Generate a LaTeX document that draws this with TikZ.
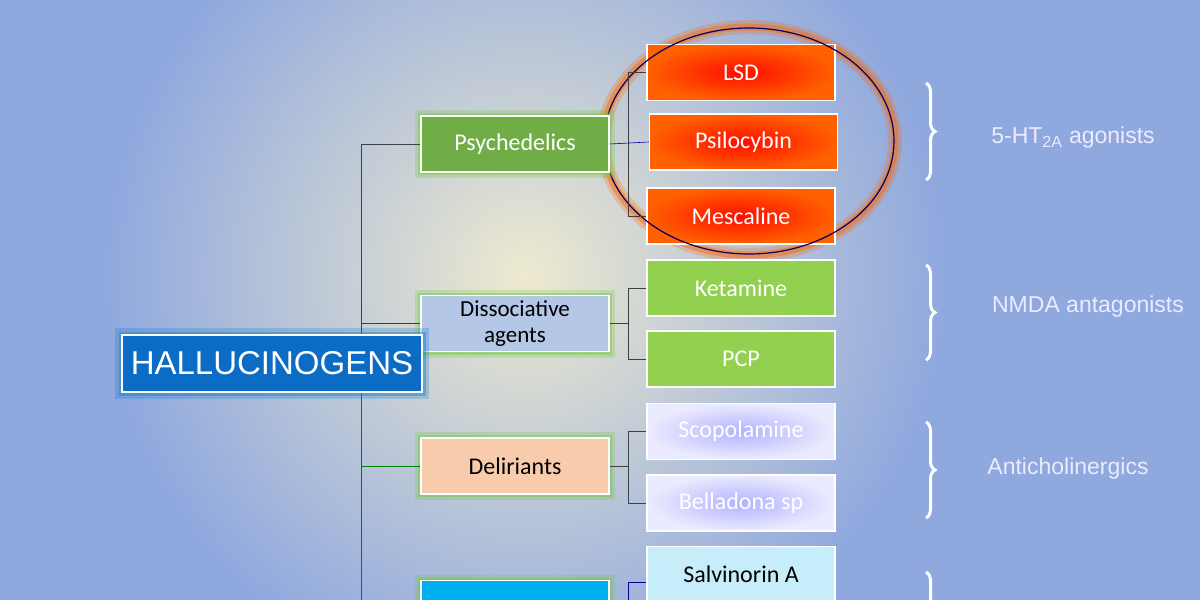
\documentclass[tikz,border=0pt]{standalone}
\usepackage{fontspec}
\setmainfont{Carlito}
\newfontfamily\labfont{Liberation Sans}
\usetikzlibrary{decorations.pathreplacing}
\definecolor{bgb}{RGB}{143,168,222}
\definecolor{bgc}{RGB}{238,234,208}
\definecolor{glow}{RGB}{110,200,60}
\begin{document}
\begin{tikzpicture}[x=1pt,y=-1pt,
 box/.style={draw=white,line width=1.2pt,minimum width=188pt,minimum height=56pt,inner sep=0pt,font=\fontsize{24}{26}\selectfont,align=center},
 grp/.style={box,preaction={draw=glow,line width=12pt,opacity=0.25},preaction={draw=glow,line width=6pt,opacity=0.4}},
 conn/.style={draw=black!75,line width=0.6pt},
 brc/.style={draw=white,line width=3pt,decorate,decoration={brace,amplitude=9pt}},
 lab/.style={text=white!92!blue,font=\labfont\fontsize{23}{25}\selectfont,anchor=center}]
\useasboundingbox (0,0) rectangle (1200,600);
\fill[bgb] (0,0) rectangle (1200,600);
\shade[inner color=bgc, outer color=bgb] (525,275) circle (420);
% trunk
\coordinate (t0) at (361,144);
\coordinate (t1) at (361,392);
\coordinate (t2) at (361,600);
\draw[conn] (t0) -- (t1);
\draw[draw=green!50!black,line width=0.6pt] (t1) -- (t2);
% ellipse glow
\draw[orange!80!red,line width=14pt,opacity=0.25] (749,141) ellipse (146pt and 114pt);
\draw[orange!80!red,line width=7pt,opacity=0.45] (749,141) ellipse (146pt and 114pt);
% items
\tikzset{hot/.style={box,inner color=red!90!orange,outer color=orange!75!red,text=white}}
\node[hot] (lsd) at (741,72.5) {LSD};
\node[hot] (psi) at (743.5,142) {Psilocybin};
\node[hot] (mes) at (741,216) {Mescaline};
\node[box,fill={rgb,255:red,146;green,208;blue,80},text=white] (ket) at (741,288) {Ketamine};
\node[box,fill={rgb,255:red,146;green,208;blue,80},text=white] (pcp) at (741,359) {PCP};
\node[box,inner color=blue!30!white,outer color=blue!8!white,text=white] (sco) at (741,431.5) {Scopolamine};
\node[box,inner color=blue!30!white,outer color=blue!8!white,text=white] (bel) at (741,503) {Belladona sp};
\node[box,fill=cyan!22!white,minimum height=60pt,anchor=north] (sal) at (741,546) {};
\node[font=\fontsize{24}{26}\selectfont] (salt) at (741,574) {Salvinorin A};
\draw[blue!40!black,line width=1.2pt] (749,141) ellipse (145pt and 113pt);
% groups
\node[grp,fill={rgb,255:red,112;green,173;blue,71},text=white] (psy) at (515,144) {Psychedelics};
\node[grp,fill={rgb,255:red,180;green,199;blue,231},text=black,font=\fontsize{23}{26}\selectfont] (dis) at (515,323.5) {Dissociative\\agents};
\node[grp,fill={rgb,255:red,248;green,203;blue,173},text=black] (del) at (515,466) {Deliriants};
\node[grp,fill={rgb,255:red,0;green,176;blue,240},anchor=north] (oth) at (515,580) {};
\node[box,fill={rgb,255:red,10;green,108;blue,196},text=white,minimum width=300pt,minimum height=57pt,font=\labfont\fontsize{33}{36}\selectfont,
 preaction={draw=cyan!60!blue,line width=14pt,opacity=0.25},preaction={draw=cyan!60!blue,line width=7pt,opacity=0.4}] (hal) at (272,363.5) {HALLUCINOGENS};
% group connectors
\draw[conn] (t0) -- (psy.west);
\draw[conn] (361,323.5) -- (dis.west);
\draw[draw=green!50!black,line width=0.6pt] (361,466) -- (del.west);
% item connectors
\draw[conn] (lsd.west) -| (628,216) -- (mes.west);
\draw[draw=blue!60!black,line width=0.6pt] (psy.east) -- (psi.west);
\draw[conn] (dis.east) -- (628,323.5);
\draw[conn] (ket.west) -| (628,359) -- (pcp.west);
\draw[conn] (del.east) -- (628,466);
\draw[conn] (sco.west) -| (628,503) -- (bel.west);
\draw[draw=blue!60!black,line width=0.6pt] (sal.west|-0,582) -- (628,582) -- (628,600);
% braces
\draw[brc] (926,83) -- (926,180);
\draw[brc] (926,265) -- (926,360);
\draw[brc] (926,422) -- (926,518);
\draw[brc] (926,572) -- (926,640);
\node[lab] (l1) at (1073,138) {5-HT\textsubscript{2A} agonists};
\node[lab] (l2) at (1088,307) {NMDA antagonists};
\node[lab] (l3) at (1068,469) {Anticholinergics};
\end{tikzpicture}
\end{document}
